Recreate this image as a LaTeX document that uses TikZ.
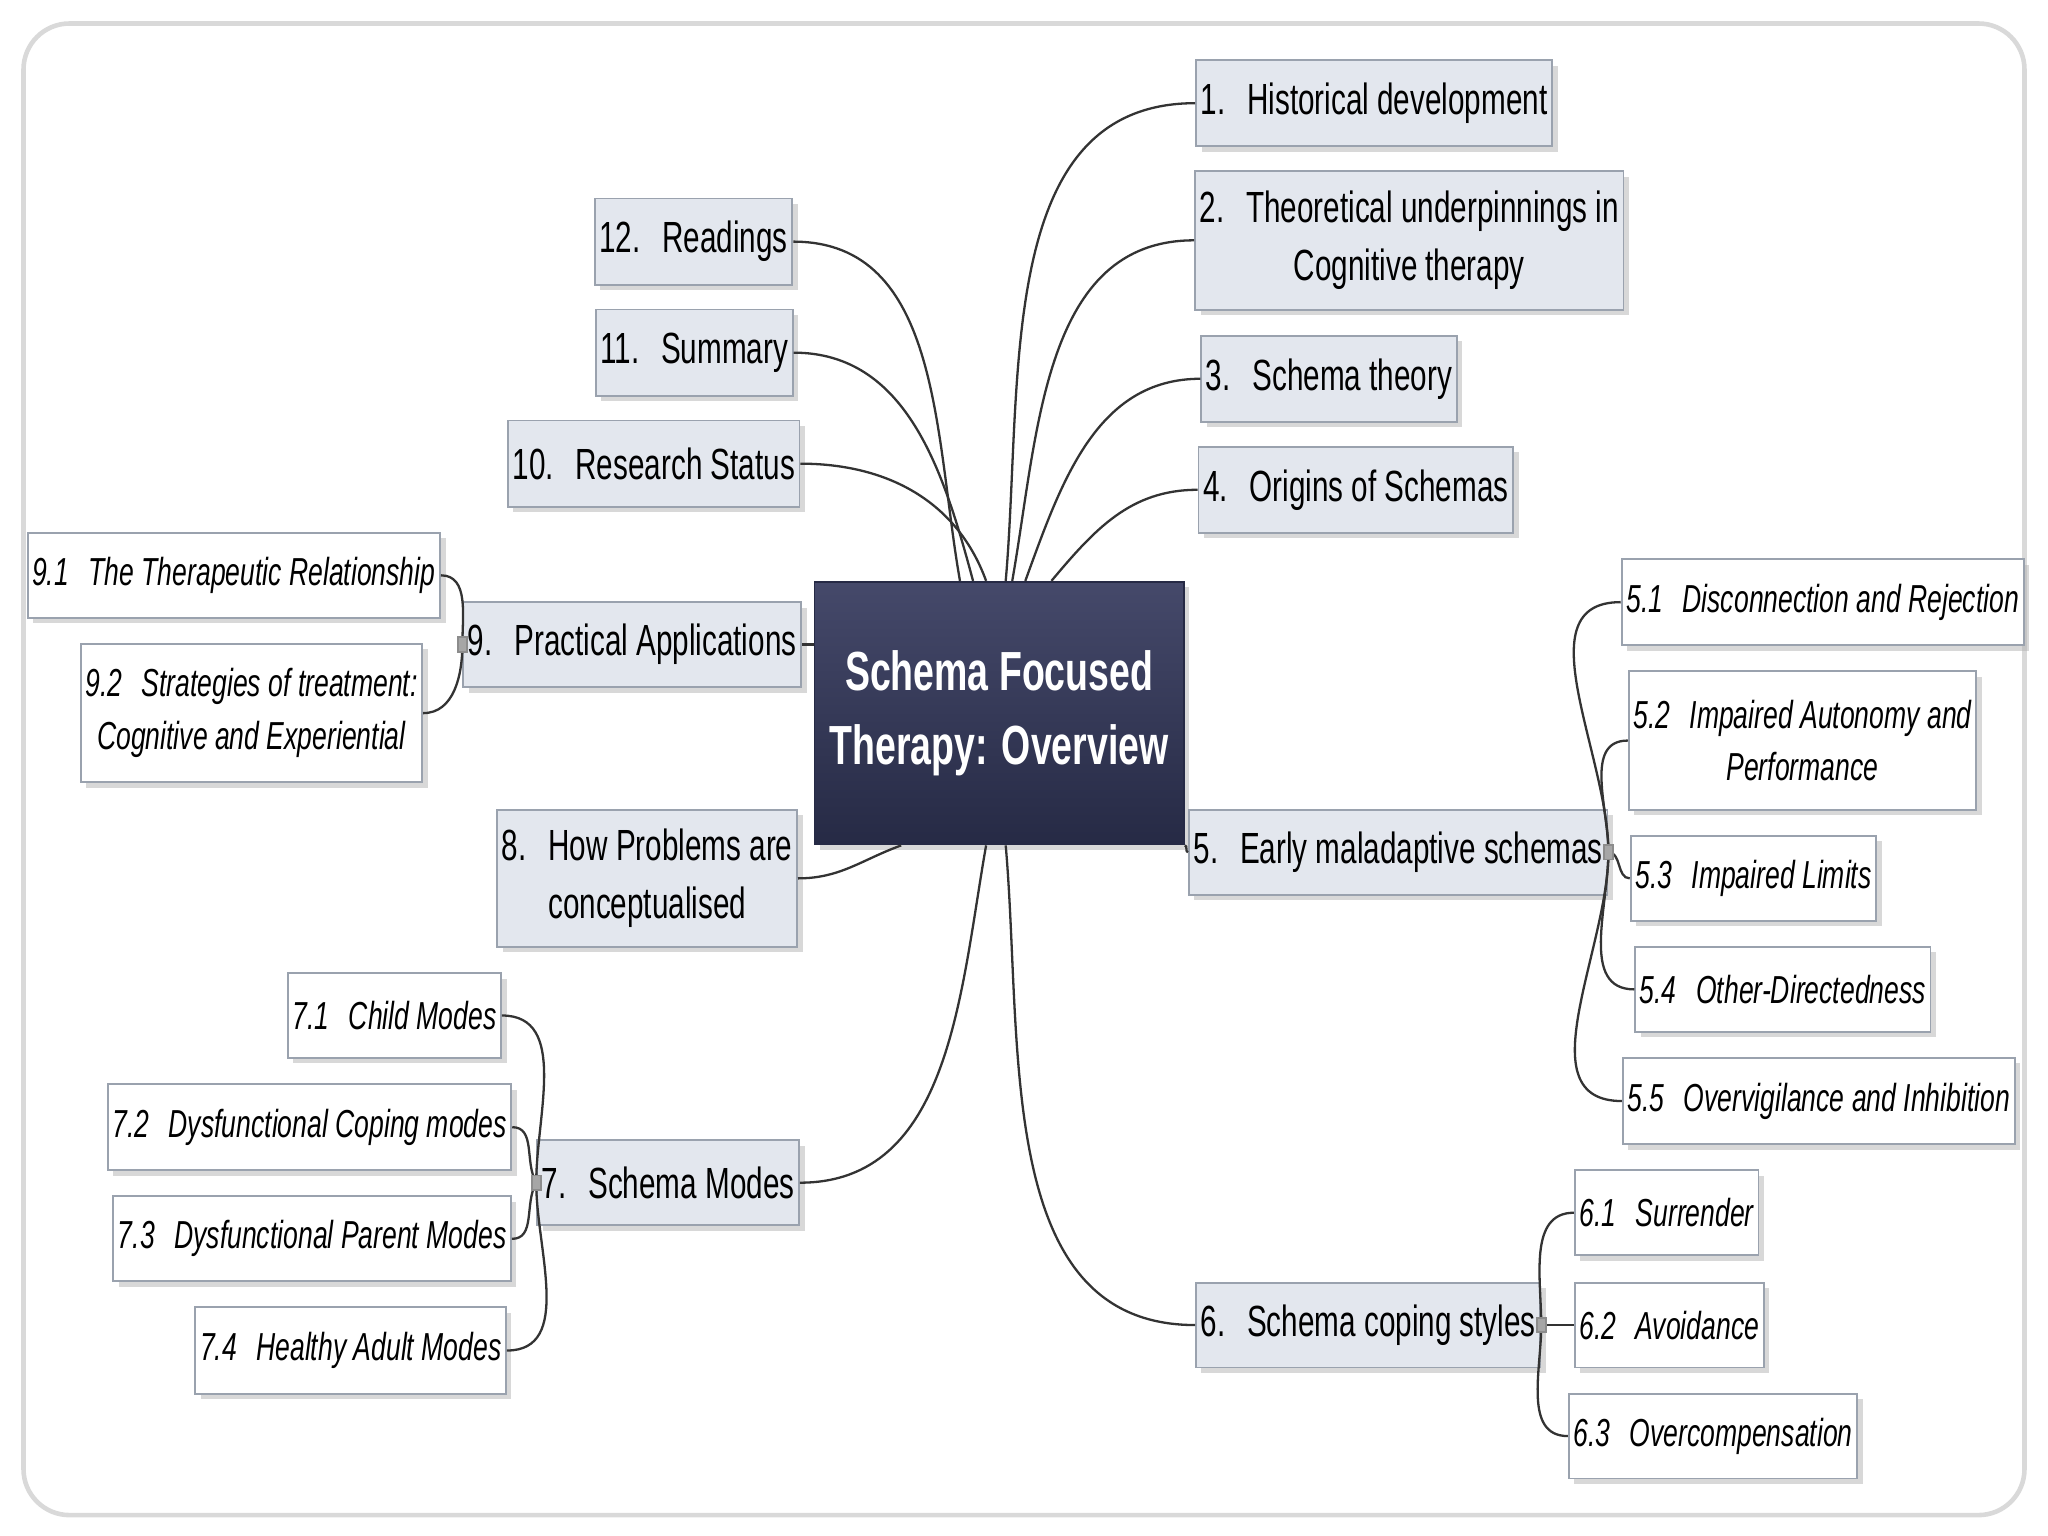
\documentclass[tikz,border=0pt]{standalone}
\usepackage{fontspec}
\setmainfont{Liberation Sans}[FakeStretch=0.68]
\usetikzlibrary{shadows}
\definecolor{boxfill}{HTML}{E3E7EE}
\definecolor{boxline}{HTML}{9AA2AE}
\definecolor{navytop}{HTML}{45496A}
\definecolor{navybot}{HTML}{262A45}
\begin{document}
\begin{tikzpicture}[
        x=0.01cm, y=-0.01cm,
        topic/.style={draw=boxline, fill=boxfill, inner sep=1pt, align=center,
          font=\fontsize{9.5}{12.5}\selectfont,
          drop shadow={shadow xshift=1.2pt, shadow yshift=-1.2pt, fill=black!30}},
        sub/.style={topic, fill=white, font=\fontsize{8.5}{11.5}\selectfont\itshape},
        branch/.style={draw=black!80, line width=0.5pt},
        knob/.style={draw=black!45, fill=black!35, minimum width=0.07cm, minimum height=0.11cm, inner sep=0pt},
      ]

      \useasboundingbox (0,0) rectangle (1568,1176);
      \draw[black!15, rounded corners=10pt, line width=1pt] (18,18) rectangle (1550,1160);

      % central node
      \node[draw=navybot, top color=navytop, bottom color=navybot, text=white, align=center,
        font=\fontsize{12}{16}\selectfont\bfseries, minimum width=2.42cm, minimum height=2.01cm,
        drop shadow={shadow xshift=1.2pt, shadow yshift=-1.2pt, fill=black!30}]
        (ctr) at (765,546) {Schema Focused\\Therapy: Overview};

      % main topics
      \node[topic, minimum width=2.40cm, minimum height=0.66cm] (t1) at (1052,79) {1.\enspace Historical development};
      \node[topic, minimum width=2.94cm, minimum height=1.06cm] (t2) at (1079,184) {2.\enspace Theoretical underpinnings in\\Cognitive therapy};
      \node[topic, minimum width=1.71cm, minimum height=0.66cm] (t3) at (1017.5,290) {3.\enspace Schema theory};
      \node[topic, minimum width=2.12cm, minimum height=0.66cm] (t4) at (1038,375) {4.\enspace Origins of Schemas};
      \node[topic, minimum width=2.77cm, minimum height=0.65cm] (t5) at (1070.5,652.5) {5.\enspace Early maladaptive schemas};
      \node[topic, minimum width=2.31cm, minimum height=0.65cm] (t6) at (1047.5,1014.5) {6.\enspace Schema coping styles};
      \node[topic, minimum width=1.73cm, minimum height=0.65cm] (t7) at (511.5,905.5) {7.\enspace Schema Modes};
      \node[topic, minimum width=2.05cm, minimum height=1.05cm] (t8) at (495.5,672.5) {8.\enspace How Problems are\\conceptualised};
      \node[topic, minimum width=2.30cm, minimum height=0.65cm] (t9) at (484,493.5) {9.\enspace Practical Applications};
      \node[topic, minimum width=1.95cm, minimum height=0.66cm] (t10) at (500.5,355) {10.\enspace Research Status};
      \node[topic, minimum width=1.35cm, minimum height=0.66cm] (t11) at (531.5,270) {11.\enspace Summary};
      \node[topic, minimum width=1.34cm, minimum height=0.66cm] (t12) at (531,185) {12.\enspace Readings};

      % sub topics
      \node[sub, minimum width=2.88cm, minimum height=0.65cm] (s91) at (179,440.5) {9.1\enspace The Therapeutic Relationship};
      \node[sub, minimum width=2.61cm, minimum height=1.06cm] (s92) at (192.5,546) {9.2\enspace Strategies of treatment:\\Cognitive and Experiential};
      \node[sub, minimum width=2.81cm, minimum height=0.66cm] (s51) at (1395.5,461) {5.1\enspace Disconnection and Rejection};
      \node[sub, minimum width=2.50cm, minimum height=1.06cm] (s52) at (1380,567) {5.2\enspace Impaired Autonomy and\\Performance};
      \node[sub, minimum width=1.75cm, minimum height=0.65cm] (s53) at (1342.5,672.5) {5.3\enspace Impaired Limits};
      \node[sub, minimum width=2.20cm, minimum height=0.65cm] (s54) at (1365,757.5) {5.4\enspace Other-Directedness};
      \node[sub, minimum width=2.75cm, minimum height=0.66cm] (s55) at (1392.5,843) {5.5\enspace Overvigilance and Inhibition};
      \node[sub, minimum width=1.32cm, minimum height=0.65cm] (s61) at (1276,928.5) {6.1\enspace Surrender};
      \node[sub, minimum width=1.36cm, minimum height=0.65cm] (s62) at (1278,1014.5) {6.2\enspace Avoidance};
      \node[sub, minimum width=2.03cm, minimum height=0.65cm] (s63) at (1311.5,1099.5) {6.3\enspace Overcompensation};
      \node[sub, minimum width=1.52cm, minimum height=0.65cm] (s71) at (302,777.5) {7.1\enspace Child Modes};
      \node[sub, minimum width=2.82cm, minimum height=0.66cm] (s72) at (237,863) {7.2\enspace Dysfunctional Coping modes};
      \node[sub, minimum width=2.78cm, minimum height=0.65cm] (s73) at (239,948.5) {7.3\enspace Dysfunctional Parent Modes};
      \node[sub, minimum width=2.19cm, minimum height=0.66cm] (s74) at (268.5,1034) {7.4\enspace Healthy Adult Modes};

      % branches from the centre
      \begin{scope}[on background layer/.style={}]
      \draw[branch] ([xshift=0.05cm]ctr.north) to[out=85,in=180] (t1.west);
      \draw[branch] ([xshift=0.10cm]ctr.north) to[out=80,in=180] (t2.west);
      \draw[branch] ([xshift=0.20cm]ctr.north) to[out=70,in=180] (t3.west);
      \draw[branch] ([xshift=0.40cm]ctr.north) to[out=50,in=180] (t4.west);
      \draw[branch] (ctr.south east) to[out=0,in=180] (t5.west);
      \draw[branch] ([xshift=0.05cm]ctr.south) to[out=-85,in=180] (t6.west);
      \draw[branch] ([xshift=-0.10cm]ctr.south) to[out=-100,in=0] (t7.east);
      \draw[branch] ([xshift=-0.75cm]ctr.south) to[out=-160,in=0] (t8.east);
      \draw[branch] (ctr.west |- t9.east) -- (t9.east);
      \draw[branch] ([xshift=-0.10cm]ctr.north) to[out=110,in=0] (t10.east);
      \draw[branch] ([xshift=-0.20cm]ctr.north) to[out=105,in=0] (t11.east);
      \draw[branch] ([xshift=-0.30cm]ctr.north) to[out=100,in=0] (t12.east);
      \end{scope}

      % sub branches
      \draw[branch] (t9.west) to[out=90,in=0] (s91.east);
      \draw[branch] (t9.west) to[out=270,in=0] (s92.east);
      \foreach \s/\o in {s51/90, s52/90, s53/0, s54/270, s55/270}
        \draw[branch] (t5.east) to[out=\o,in=180] (\s.west);
      \foreach \s/\o in {s61/90, s62/0, s63/270}
        \draw[branch] (t6.east) to[out=\o,in=180] (\s.west);
      \foreach \s/\o in {s71/90, s72/120, s73/240, s74/270}
        \draw[branch] (t7.west) to[out=\o,in=0] (\s.east);

      \node[knob] (k9) at (t9.west) {};
      \node[knob] (k5) at (t5.east) {};
      \node[knob] (k6) at (t6.east) {};
      \node[knob] (k7) at (t7.west) {};

    \end{tikzpicture}
\end{document}
